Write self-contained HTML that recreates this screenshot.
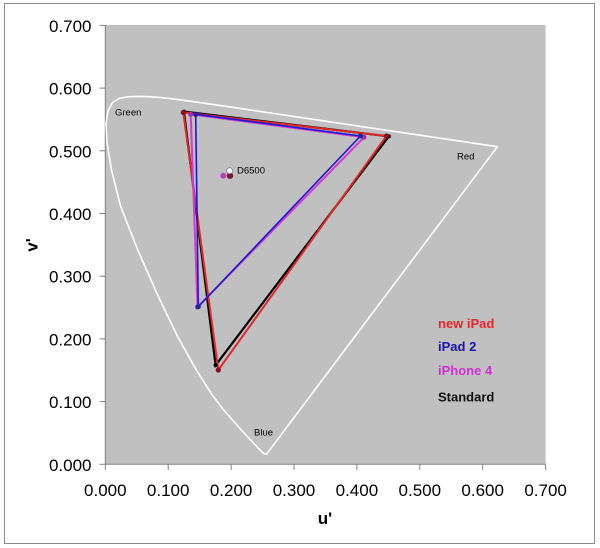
<!DOCTYPE html>
<html>
<head>
<meta charset="utf-8">
<style>
  html, body { margin: 0; padding: 0; background: #ffffff; }
  svg { display: block; }
  text { font-family: "Liberation Sans", Arial, sans-serif; }
</style>
</head>
<body>
<svg width="600" height="548" viewBox="0 0 600 548" xmlns="http://www.w3.org/2000/svg">
  <rect x="0" y="0" width="600" height="548" fill="#ffffff"/>
  <rect x="4.5" y="3.5" width="590" height="540" fill="none" stroke="#8a8a8a" stroke-width="1"/>

  <!-- plot area -->
  <rect x="105.3" y="25" width="440.3" height="439.3" fill="#c0c0c0"/>

  <!-- axes -->
  <g stroke="#808080" stroke-width="1" fill="none">
    <line x1="105.3" y1="25" x2="105.3" y2="464.3"/>
    <line x1="105.3" y1="464.3" x2="545.6" y2="464.3"/>
    <!-- y ticks -->
    <line x1="99.5" y1="464.3" x2="105.3" y2="464.3"/>
    <line x1="99.5" y1="401.6" x2="105.3" y2="401.6"/>
    <line x1="99.5" y1="338.9" x2="105.3" y2="338.9"/>
    <line x1="99.5" y1="276.2" x2="105.3" y2="276.2"/>
    <line x1="99.5" y1="213.5" x2="105.3" y2="213.5"/>
    <line x1="99.5" y1="150.8" x2="105.3" y2="150.8"/>
    <line x1="99.5" y1="88.1" x2="105.3" y2="88.1"/>
    <line x1="99.5" y1="25.4" x2="105.3" y2="25.4"/>
    <!-- x ticks -->
    <line x1="105.3" y1="464.3" x2="105.3" y2="470"/>
    <line x1="168.2" y1="464.3" x2="168.2" y2="470"/>
    <line x1="231.1" y1="464.3" x2="231.1" y2="470"/>
    <line x1="294" y1="464.3" x2="294" y2="470"/>
    <line x1="356.9" y1="464.3" x2="356.9" y2="470"/>
    <line x1="419.8" y1="464.3" x2="419.8" y2="470"/>
    <line x1="482.7" y1="464.3" x2="482.7" y2="470"/>
    <line x1="545.6" y1="464.3" x2="545.6" y2="470"/>
  </g>

  <!-- y tick labels -->
  <g font-size="17" fill="#000" text-anchor="end">
    <text x="91.5" y="470.8">0.000</text>
    <text x="91.5" y="408.1">0.100</text>
    <text x="91.5" y="345.4">0.200</text>
    <text x="91.5" y="282.7">0.300</text>
    <text x="91.5" y="220">0.400</text>
    <text x="91.5" y="157.3">0.500</text>
    <text x="91.5" y="94.6">0.600</text>
    <text x="91.5" y="31.9">0.700</text>
  </g>
  <!-- x tick labels -->
  <g font-size="17" fill="#000" text-anchor="middle">
    <text x="105.3" y="496">0.000</text>
    <text x="168.2" y="496">0.100</text>
    <text x="231.1" y="496">0.200</text>
    <text x="294" y="496">0.300</text>
    <text x="356.9" y="496">0.400</text>
    <text x="419.8" y="496">0.500</text>
    <text x="482.7" y="496">0.600</text>
    <text x="545.6" y="496">0.700</text>
  </g>

  <!-- axis titles -->
  <text x="325" y="524" font-size="17" font-weight="bold" text-anchor="middle" fill="#000">u'</text>
  <text transform="translate(37.5,245) rotate(-90)" x="0" y="0" font-size="17" font-weight="bold" text-anchor="middle" fill="#000">v'</text>

  <!-- spectral locus -->
  <polygon fill="none" stroke="#ffffff" stroke-width="1.6" stroke-linejoin="round"
    points="266.5,454.2 263.9,453.6 260.1,450.1 252.9,442.4 241.2,429.9 223.4,409.7 211.6,394.1 196.0,369.6 177.4,336.1 157.4,294.5 137.5,249.4 120.5,206.0 111.5,170.0 107.0,142.6 106.0,123.7 108.0,110.8 112.5,102.5 119.5,98.3 127.9,96.8 136.8,96.4 145.7,96.6 155.1,97.1 165.2,98.1 176.2,99.3 188.3,100.9 201.6,102.8 232.7,107.3 270.3,113.0 313.8,119.4 359.1,126.2 432.6,137.1 483.0,144.6 497.4,146.7"/>

  <!-- locus labels -->
  <g font-size="9.5" fill="#000">
    <text x="115" y="115.5">Green</text>
    <text x="457" y="159.5">Red</text>
    <text x="254" y="435.5">Blue</text>
    <text x="237" y="173.5">D6500</text>
  </g>

  <!-- Standard (black) -->
  <polygon fill="none" stroke="#000000" stroke-width="2.2" stroke-linejoin="miter"
    points="183.9,111.6 388.8,136.4 215.6,365.3"/>
  <!-- new iPad (red) -->
  <polygon fill="none" stroke="#e02828" stroke-width="2" stroke-linejoin="miter"
    points="183.3,112.5 386.5,136 218.3,370"/>
  <!-- iPhone 4 (magenta) -->
  <polygon fill="none" stroke="#d23cd2" stroke-width="2" stroke-linejoin="miter"
    points="190.7,114.3 364,137.3 197.5,307"/>
  <!-- iPad 2 (blue) -->
  <polygon fill="none" stroke="#1a1ad0" stroke-width="1.6" stroke-linejoin="miter"
    points="195.7,114.3 360.5,136 198.3,306.7"/>

  <!-- markers -->
  <g fill="#000">
    <circle cx="183.9" cy="111.6" r="2"/>
    <circle cx="388.8" cy="136.4" r="2"/>
    <circle cx="215.6" cy="365.3" r="2"/>
  </g>
  <g fill="#8a1020">
    <circle cx="183.3" cy="112.5" r="2.6"/>
    <circle cx="386.5" cy="136" r="2.6"/>
    <circle cx="218.3" cy="370" r="2.6"/>
  </g>
  <g fill="#a030b0">
    <circle cx="190.7" cy="114.3" r="2.5"/>
    <circle cx="364" cy="137.3" r="2.5"/>
    <circle cx="197.5" cy="307" r="2.5"/>
  </g>
  <g fill="#2020a0">
    <circle cx="195.7" cy="114.3" r="2.5"/>
    <circle cx="360.5" cy="136" r="2.5"/>
    <circle cx="198.3" cy="306.7" r="2.5"/>
  </g>

  <!-- white points -->
  <circle cx="223.3" cy="175.7" r="3.2" fill="#a050a8" stroke="#e090e0" stroke-width="0.8"/>
  <circle cx="230" cy="175.7" r="3.2" fill="#7a1c30"/>
  <circle cx="229.7" cy="170.7" r="3" fill="#ffffff" stroke="#707070" stroke-width="0.7"/>

  <!-- legend -->
  <g font-size="13" font-weight="bold">
    <text x="438" y="328" fill="#e8232a">new iPad</text>
    <text x="438" y="351" fill="#1515b5">iPad 2</text>
    <text x="438" y="375" fill="#d02fd0">iPhone 4</text>
    <text x="438" y="401.5" fill="#111111">Standard</text>
  </g>
</svg>
</body>
</html>
